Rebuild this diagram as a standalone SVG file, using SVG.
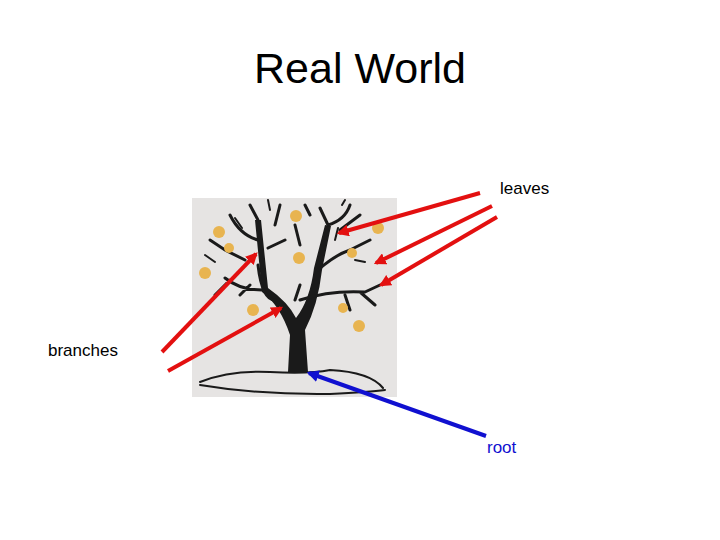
<svg xmlns="http://www.w3.org/2000/svg" width="720" height="540" viewBox="0 0 720 540">
<style>
text{font-family:"Liberation Sans",Arial,sans-serif}
.br{fill:none;stroke:#1a1a1a;stroke-linecap:round}
.leaf{fill:#e8b450}
.red{stroke:#e31010;stroke-width:4;fill:none}
.blue{stroke:#1010d0;stroke-width:4;fill:none}
</style>
<defs>
<marker id="ar" viewBox="0 0 10 10" refX="8" refY="5" markerWidth="3" markerHeight="3" orient="auto"><path d="M0,0L10,5L0,10z" fill="#e31010"/></marker>
<marker id="ab" viewBox="0 0 10 10" refX="8" refY="5" markerWidth="3" markerHeight="3" orient="auto"><path d="M0,0L10,5L0,10z" fill="#1010d0"/></marker>
</defs>
<rect width="720" height="540" fill="#fff"/>
<text x="360" y="83" font-size="43" text-anchor="middle">Real World</text>
<g id="tree">
<rect x="192" y="198" width="205" height="199" fill="#e6e4e3"/>
<path d="M200,382 Q230,370 270,372 T330,370 Q370,372 383,388 M200,385 Q260,395 330,394 Q370,392 385,390" class="br" stroke-width="2"/>
<path d="M288,372 L290,335 Q280,305 262,292 L255,220 L261,220 L268,288 Q288,302 296,318 Q310,300 314,268 L325,225 L331,226 L322,270 Q318,305 305,330 L308,372 Z" fill="#1a1a1a"/>
<path d="M275,300 Q262,300 258,265 M262,290 Q240,290 225,278 M300,300 Q330,290 365,292 M318,270 Q335,255 350,250 M258,220 L250,205 M258,240 Q240,235 230,215 M328,225 L320,208 M328,225 Q345,220 350,205 M340,230 L360,215 M245,260 L225,250 L210,240 M230,280 L215,295 M365,292 L380,285 M360,292 L375,305 M345,295 L350,310 M350,250 L370,240 M295,300 L300,285 M250,285 L240,295 M300,245 L295,225 M275,225 L280,205 M310,215 L305,205 M268,248 L285,240" class="br" stroke-width="3"/>
<path d="M270,210 L268,200 M242,228 L235,218 M355,260 L365,262 M215,262 L205,255 M335,240 L338,228 M342,205 L345,200" class="br" stroke-width="2"/>
<g class="leaf">
<circle cx="296" cy="216" r="6"/><circle cx="219" cy="232" r="6"/><circle cx="229" cy="248" r="5"/><circle cx="205" cy="273" r="6"/><circle cx="299" cy="258" r="6"/><circle cx="253" cy="310" r="6"/><circle cx="343" cy="308" r="5"/><circle cx="359" cy="326" r="6"/><circle cx="378" cy="228" r="6"/><circle cx="352" cy="253" r="5"/>
</g>
</g>
<g id="labels">
<text x="500" y="194" font-size="17">leaves</text>
<text x="48" y="356" font-size="17">branches</text>
<text x="487" y="453" font-size="17" fill="#1010d0">root</text>
</g>
<g id="connectors">
<line x1="480" y1="193" x2="339" y2="233" class="red" marker-end="url(#ar)"/>
<line x1="492" y1="206" x2="376" y2="263" class="red" marker-end="url(#ar)"/>
<line x1="497" y1="217" x2="381" y2="285" class="red" marker-end="url(#ar)"/>
<line x1="162" y1="352" x2="256" y2="254" class="red" marker-end="url(#ar)"/>
<line x1="168" y1="371" x2="281" y2="308" class="red" marker-end="url(#ar)"/>
<line x1="486" y1="436" x2="309" y2="373" class="blue" marker-end="url(#ab)"/>
</g>
</svg>
